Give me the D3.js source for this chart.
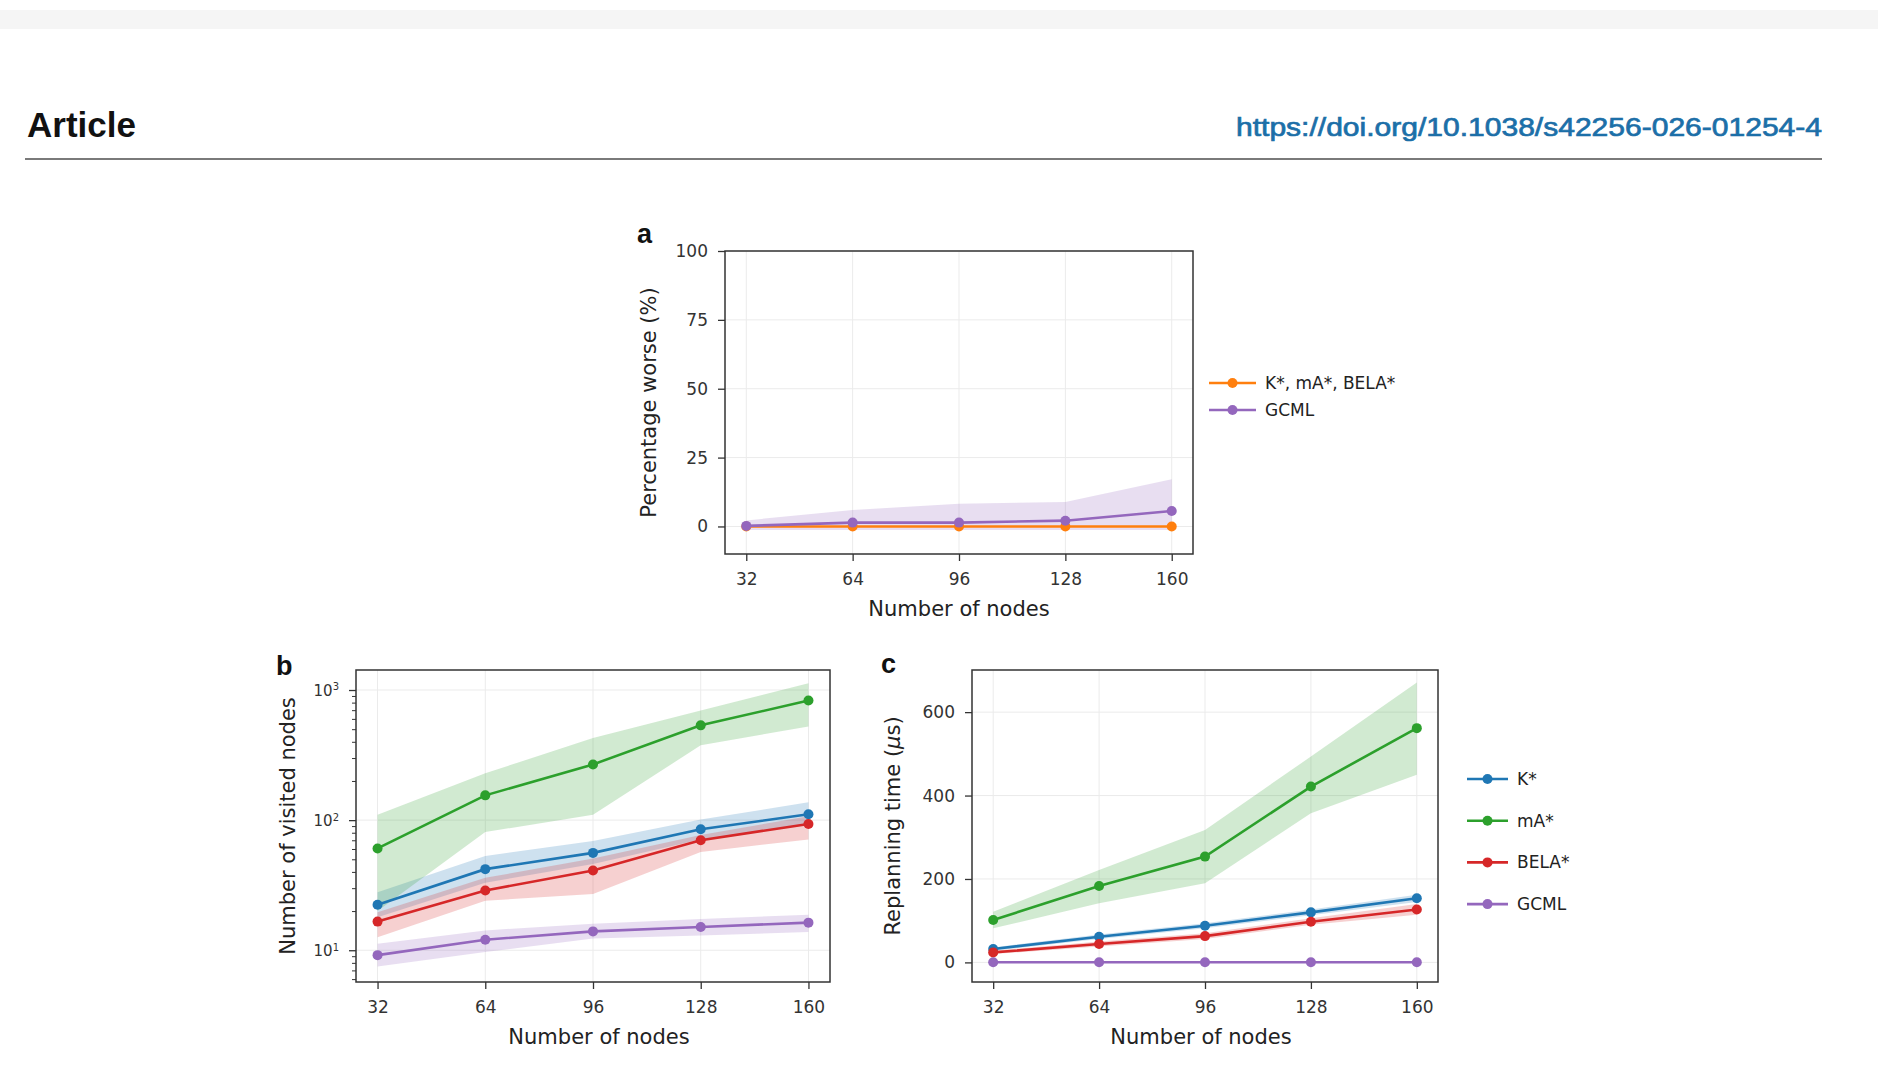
<!DOCTYPE html>
<html>
<head>
<meta charset="utf-8">
<script src="https://cdn.jsdelivr.net/npm/d3@7"></script>
<style>
  html, body { margin: 0; padding: 0; background: #fff; }
  svg { display: block; }
</style>
</head>
<body>
<svg id="chart" width="1878" height="1080"></svg>
<script>
// ---------------- DATA ----------------
const nodes = [32, 64, 96, 128, 160];
const xTickLabels = ["32", "64", "96", "128", "160"];

// Panel a: percentage worse (%)
const aYTicks = [0, 25, 50, 75, 100];
const aBase = [0, 0, 0, 0, 0];           // K*, mA*, BELA*
const aGcml = [0.2, 1.4, 1.4, 2.1, 5.6];
const aGcmlLo = [-1.3, -1.3, -1.3, -1.3, -1.3];
const aGcmlHi = [2.2, 6.0, 8.2, 8.9, 17.1];
const aLegend = ["K*, mA*, BELA*", "GCML"];

// Panel b: number of visited nodes (log)
const bYTicks = [10, 100, 1000];
const bYTickExp = ["1", "2", "3"];
const bK = [22.4, 42, 56, 85, 111];
const bKLo = [17.9, 33, 46, 71, 92];
const bKHi = [27.9, 53, 69, 101, 137];
const bMA = [60.6, 155, 268, 535, 830];
const bMALo = [20, 81, 110, 376, 525];
const bMAHi = [110, 229, 428, 695, 1125];
const bBELA = [16.6, 28.8, 41, 70, 93.5];
const bBELALo = [12.6, 24, 27, 57, 71];
const bBELAHi = [19.6, 36, 50.6, 77, 107];
const bGCML = [9.17, 12.05, 13.96, 15.1, 16.3];
const bGCMLLo = [7.5, 9.7, 12.3, 13, 13.8];
const bGCMLHi = [11.2, 14.2, 16, 17.4, 18.7];

// Panel c: replanning time (µs)
const cYTicks = [0, 200, 400, 600];
const cK = [32, 61.6, 88, 120, 153.6];
const cKLo = [28, 56, 82, 113, 145];
const cKHi = [36, 67, 94, 127, 162];
const cMA = [101.6, 183, 253.6, 421.6, 561.6];
const cMALo = [81.6, 141.6, 189.6, 357.6, 449.6];
const cMAHi = [121.6, 221.6, 317.6, 493.6, 671];
const cBELA = [24, 44, 63, 97.6, 127];
const cBELALo = [20, 38, 56, 90, 114];
const cBELAHi = [28, 50, 70, 106, 140];
const cGCML = [0.5, 0.5, 0.5, 0.5, 0.5];
const cGCMLLo = [0, 0, 0, 0, 0];
const cGCMLHi = [1, 1, 1, 1, 1];

const seriesNames = ["K*", "mA*", "BELA*", "GCML"];
const colors = { "K*": "#1f77b4", "mA*": "#2ca02c", "BELA*": "#d62728", "GCML": "#9467bd", "base": "#ff7f0e" };

// ---------------- DRAW ----------------
const svg = d3.select("#chart");
const FONT = "'DejaVu Sans', sans-serif";

// page header
svg.append("rect").attr("x", 0).attr("y", 10).attr("width", 1878).attr("height", 19).attr("fill", "#f5f5f5");
svg.append("text").attr("x", 27).attr("y", 137).text("Article")
  .style("font-family", "'Liberation Sans', Arial, sans-serif").style("font-weight", "bold")
  .style("font-size", "35px").attr("fill", "#111");
svg.append("text").attr("x", 1822).attr("y", 136).attr("text-anchor", "end")
  .attr("textLength", 586).attr("lengthAdjust", "spacingAndGlyphs")
  .text("https://doi.org/10.1038/s42256-026-01254-4")
  .style("font-family", "'Liberation Sans', Arial, sans-serif")
  .style("font-size", "26px").attr("fill", "#1c6fa8")
  .attr("stroke", "#1c6fa8").attr("stroke-width", 0.7);
svg.append("line").attr("x1", 25).attr("x2", 1822).attr("y1", 159).attr("y2", 159)
  .attr("stroke", "#7a7a7a").attr("stroke-width", 2);

function makePanel(opt) {
  const g = svg.append("g");
  const x = d3.scaleLinear().domain([25.6, 166.4]).range([opt.x0, opt.x1]);
  const y = (opt.log ? d3.scaleLog() : d3.scaleLinear()).domain(opt.yDomain).range([opt.y1, opt.y0]);

  // grid
  const grid = g.append("g");
  grid.selectAll(".gx").data(nodes).join("line")
    .attr("x1", d => x(d)).attr("x2", d => x(d)).attr("y1", opt.y0).attr("y2", opt.y1)
    .attr("stroke", "#ebebeb").attr("stroke-width", 1);
  grid.selectAll(".gy").data(opt.yTicks).join("line")
    .attr("y1", d => y(d)).attr("y2", d => y(d)).attr("x1", opt.x0).attr("x2", opt.x1)
    .attr("stroke", "#ebebeb").attr("stroke-width", 1);

  // series
  const clipId = "clip" + opt.id;
  svg.append("clipPath").attr("id", clipId).append("rect")
    .attr("x", opt.x0).attr("y", opt.y0).attr("width", opt.x1 - opt.x0).attr("height", opt.y1 - opt.y0);
  const sg = g.append("g").attr("clip-path", `url(#${clipId})`);
  opt.series.forEach(s => {
    const pts = nodes.map((n, i) => ({ n, v: s.v[i], lo: s.lo ? s.lo[i] : null, hi: s.hi ? s.hi[i] : null }));
    if (s.lo) {
      sg.append("path").datum(pts)
        .attr("d", d3.area().x(d => x(d.n)).y0(d => y(d.lo)).y1(d => y(d.hi)))
        .attr("fill", s.color).attr("fill-opacity", 0.22).attr("stroke", "none");
    }
  });
  opt.series.forEach(s => {
    const pts = nodes.map((n, i) => ({ n, v: s.v[i] }));
    sg.append("path").datum(pts)
      .attr("d", d3.line().x(d => x(d.n)).y(d => y(d.v)))
      .attr("fill", "none").attr("stroke", s.color).attr("stroke-width", 2.6);
    sg.selectAll(null).data(pts).join("circle")
      .attr("cx", d => x(d.n)).attr("cy", d => y(d.v)).attr("r", 5).attr("fill", s.color);
  });

  // frame
  g.append("rect").attr("x", opt.x0).attr("y", opt.y0).attr("width", opt.x1 - opt.x0).attr("height", opt.y1 - opt.y0)
    .attr("fill", "none").attr("stroke", "#333").attr("stroke-width", 1.5);

  // axes
  const xa = g.append("g").attr("transform", `translate(0,${opt.y1})`)
    .call(d3.axisBottom(x).tickValues(nodes).tickFormat((d, i) => xTickLabels[i]).tickSize(7).tickPadding(12));
  xa.select(".domain").remove();
  xa.selectAll("line").attr("stroke", "#333").attr("stroke-width", 1.3);
  xa.selectAll("text").style("font-family", FONT).style("font-size", "17px").attr("fill", "#333");

  const ya = g.append("g").attr("transform", `translate(${opt.x0},0)`)
    .call(d3.axisLeft(y).tickValues(opt.yTicks).tickFormat(opt.log ? () => "" : d => String(d)).tickSize(7).tickPadding(10));
  ya.select(".domain").remove();
  ya.selectAll("line").attr("stroke", "#333").attr("stroke-width", 1.3);
  ya.selectAll("text").style("font-family", FONT).style("font-size", "17px").attr("fill", "#333");
  if (opt.log) {
    ya.selectAll("text").each(function (d, i) {
      const t = d3.select(this).attr("dy", "0.32em");
      t.append("tspan").text("10").style("font-size", "15px");
      t.append("tspan").text(bYTickExp[i]).attr("dy", "-0.55em").style("font-size", "10px");
    });
    const minors = [];
    [1, 10, 100].forEach(dec => [2, 3, 4, 5, 6, 7, 8, 9].forEach(m => {
      const v = dec * m;
      if (v > opt.yDomain[0] && v < opt.yDomain[1]) minors.push(v);
    }));
    const ym = g.append("g").attr("transform", `translate(${opt.x0},0)`)
      .call(d3.axisLeft(y).tickValues(minors).tickFormat(() => "").tickSize(4));
    ym.select(".domain").remove();
    ym.selectAll("line").attr("stroke", "#333").attr("stroke-width", 1);
  }

  // labels
  g.append("text").attr("x", (opt.x0 + opt.x1) / 2 + opt.xlabShift).attr("y", opt.y1 + 62).attr("text-anchor", "middle")
    .text("Number of nodes").style("font-family", FONT).style("font-size", "21px").attr("fill", "#222");
  const yl = g.append("text").attr("transform", `translate(${opt.ylabX},${(opt.y0 + opt.y1) / 2}) rotate(-90)`)
    .attr("text-anchor", "middle").attr("dy", "0.35em")
    .style("font-family", FONT).style("font-size", "21px").attr("fill", "#222");
  opt.ylab.forEach(part => {
    const ts = yl.append("tspan").text(part.t);
    if (part.italic) ts.style("font-style", "italic");
  });
  g.append("text").attr("x", opt.lx).attr("y", opt.ly).text(opt.letter)
    .style("font-family", "'Liberation Sans', Arial, sans-serif").style("font-weight", "bold")
    .style("font-size", "27px").attr("fill", "#111");

  // legend
  if (opt.legend) {
    const L = opt.legend;
    L.items.forEach((it, i) => {
      const yy = L.y + i * L.dy;
      g.append("line").attr("x1", L.x).attr("x2", L.x + L.w).attr("y1", yy).attr("y2", yy)
        .attr("stroke", it.color).attr("stroke-width", 2.6);
      g.append("circle").attr("cx", L.x + L.w / 2).attr("cy", yy).attr("r", 5).attr("fill", it.color);
      g.append("text").attr("x", L.x + L.w + 9).attr("y", yy).attr("dy", "0.35em").text(it.name)
        .style("font-family", FONT).style("font-size", "17px").attr("fill", "#222");
    });
  }
}

// Panel a
makePanel({
  id: "a", x0: 725, x1: 1193, y0: 251, y1: 554, yDomain: [-10, 100], yTicks: aYTicks,
  ylab: [{ t: "Percentage worse (%)" }], ylabX: 649, xlabShift: 0, letter: "a", lx: 637, ly: 243,
  series: [
    { v: aBase, color: colors.base },
    { v: aGcml, lo: aGcmlLo, hi: aGcmlHi, color: colors.GCML }
  ],
  legend: { x: 1209, w: 47, y: 383, dy: 27, items: [
    { name: aLegend[0], color: colors.base }, { name: aLegend[1], color: colors.GCML }] }
});

// Panel b
makePanel({
  id: "b", x0: 356, x1: 830, y0: 670, y1: 982, log: true, yDomain: [5.7, 1425], yTicks: bYTicks,
  ylab: [{ t: "Number of visited nodes" }], ylabX: 288, xlabShift: 6, letter: "b", lx: 276, ly: 675,
  series: [
    { v: bK, lo: bKLo, hi: bKHi, color: colors["K*"] },
    { v: bMA, lo: bMALo, hi: bMAHi, color: colors["mA*"] },
    { v: bBELA, lo: bBELALo, hi: bBELAHi, color: colors["BELA*"] },
    { v: bGCML, lo: bGCMLLo, hi: bGCMLHi, color: colors.GCML }
  ]
});

// Panel c
makePanel({
  id: "c", x0: 972, x1: 1438, y0: 670, y1: 982, yDomain: [-47, 701], yTicks: cYTicks,
  ylab: [{ t: "Replanning time (" }, { t: "μ", italic: true }, { t: "s)" }], ylabX: 893, xlabShift: -4,
  letter: "c", lx: 881, ly: 673,
  series: [
    { v: cK, lo: cKLo, hi: cKHi, color: colors["K*"] },
    { v: cMA, lo: cMALo, hi: cMAHi, color: colors["mA*"] },
    { v: cBELA, lo: cBELALo, hi: cBELAHi, color: colors["BELA*"] },
    { v: cGCML, lo: cGCMLLo, hi: cGCMLHi, color: colors.GCML }
  ],
  legend: { x: 1467, w: 41, y: 779, dy: 41.7, items: seriesNames.map(n => ({ name: n, color: colors[n] })) }
});
</script>
</body>
</html>
